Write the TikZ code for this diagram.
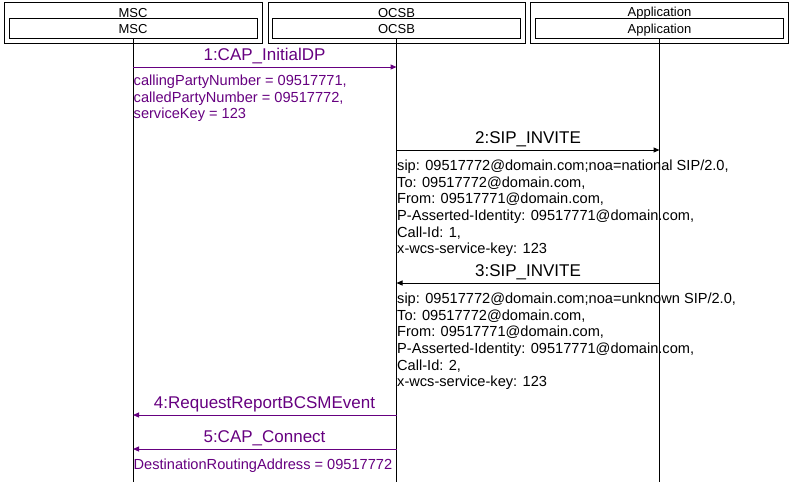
\documentclass[tikz,border=0pt]{standalone}
\usepackage{fontspec}
\setmainfont{Liberation Sans}
\usetikzlibrary{arrows.meta}
\definecolor{cappurple}{RGB}{102,0,128}
\tikzset{
  hdrbox/.style={draw, line width=1pt, minimum width=248pt, minimum height=20pt, inner sep=0pt, text height=12pt, text depth=2pt, font=\fontsize{13}{15}\selectfont},
  hdrtitle/.style={inner sep=0pt, font=\fontsize{13}{15}\selectfont},
  lifeline/.style={line width=1pt},
  msgline/.style={line width=1pt, -{Triangle[length=6pt,width=5pt]}},
  msglabel/.style={inner sep=0pt, anchor=base, font=\fontsize{17}{20}\selectfont},
  params/.style={inner sep=0pt, anchor=north west, align=left, font=\fontsize{14.6}{16.6}\selectfont}
}
\begin{document}
\begin{tikzpicture}[x=1pt,y=-1pt]
			%%%%% START %%%%%
			\useasboundingbox (0,0) rectangle (796,482);
			
			\draw[line width=1pt] (4,2) rectangle (262,43);
			\draw[line width=1pt] (268,2) rectangle (525,43);
			\draw[line width=1pt] (530,2) rectangle (788,43);
			
			\node[hdrtitle] (msctitle) at (133,13) {MSC};
			\node[hdrtitle] (ocsbtitle) at (396.5,13) {OCSB};
			\node[hdrtitle] (apptitle) at (659.5,13) {Application};
			
			\node[hdrbox] (msc) at (133,28) {MSC};
			\node[hdrbox] (ocsb) at (396.5,28) {OCSB};
			\node[hdrbox] (app) at (659.5,28) {Application};
			
			\coordinate (mscend) at (133,482);
			\coordinate (ocsbend) at (396.5,482);
			\coordinate (append) at (659.5,482);
			\draw[lifeline] (msc.south) -- (mscend);
			\draw[lifeline] (ocsb.south) -- (ocsbend);
			\draw[lifeline] (app.south) -- (append);
			
			%%%%% MESSAGES %%%%%
			\path (msc |- 0,67) coordinate (m1a) (ocsb |- 0,67) coordinate (m1b);
			\path (ocsb |- 0,150) coordinate (m2a) (app |- 0,150) coordinate (m2b);
			\path (app |- 0,283) coordinate (m3a) (ocsb |- 0,283) coordinate (m3b);
			\path (ocsb |- 0,415) coordinate (m4a) (msc |- 0,415) coordinate (m4b);
			\path (ocsb |- 0,449) coordinate (m5a) (msc |- 0,449) coordinate (m5b);
			
			\draw[msgline, color=cappurple] (m1a) -- (m1b);
			\node[msglabel, color=cappurple] (lbl1) at (264.5,60) {1:CAP\_InitialDP};
			\node[params, color=cappurple] (par1) at (133.5,75) {callingPartyNumber = 09517771,\\calledPartyNumber = 09517772,\\serviceKey = 123};
			
			\draw[msgline] (m2a) -- (m2b);
			\node[msglabel] (lbl2) at (528,143) {2:SIP\_INVITE};
			\node[params] (par2) at (397,160) {sip: 09517772@domain.com;noa=national SIP/2.0,\\To: 09517772@domain.com,\\From: 09517771@domain.com,\\P-Asserted-Identity: 09517771@domain.com,\\Call-Id: 1,\\x-wcs-service-key: 123};
			
			\draw[msgline] (m3a) -- (m3b);
			\node[msglabel] (lbl3) at (528,276) {3:SIP\_INVITE};
			\node[params] (par3) at (397,293) {sip: 09517772@domain.com;noa=unknown SIP/2.0,\\To: 09517772@domain.com,\\From: 09517771@domain.com,\\P-Asserted-Identity: 09517771@domain.com,\\Call-Id: 2,\\x-wcs-service-key: 123};
			
			\draw[msgline, color=cappurple] (m4a) -- (m4b);
			\node[msglabel, color=cappurple] (lbl4) at (264.5,408) {4:RequestReportBCSMEvent};
			
			\draw[msgline, color=cappurple] (m5a) -- (m5b);
			\node[msglabel, color=cappurple] (lbl5) at (264.5,442) {5:CAP\_Connect};
			\node[params, color=cappurple] (par5) at (133.5,459) {DestinationRoutingAddress = 09517772};
			
			%%%%% END %%%%%
		\end{tikzpicture}
\end{document}
